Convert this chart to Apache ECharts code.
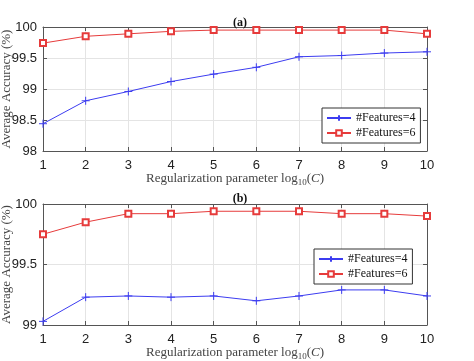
<!DOCTYPE html>
<html><head><meta charset="utf-8">
<script src="https://cdn.jsdelivr.net/npm/echarts@6/dist/echarts.min.js"></script>
<style>html,body{margin:0;padding:0;background:#fff}#c{width:474px;height:361px}</style>
</head><body><div id="c"></div>
<script>
const categories = [1,2,3,4,5,6,7,8,9,10];
const seriesNames = ['#Features=4', '#Features=6'];
const a_f4 = [98.44, 98.81, 98.96, 99.12, 99.24, 99.35, 99.52, 99.54, 99.58, 99.60];
const a_f6 = [99.74, 99.85, 99.89, 99.93, 99.95, 99.95, 99.95, 99.95, 99.95, 99.89];
const b_f4 = [99.03, 99.23, 99.24, 99.23, 99.24, 99.20, 99.24, 99.29, 99.29, 99.24];
const b_f6 = [99.75, 99.85, 99.92, 99.92, 99.94, 99.94, 99.94, 99.92, 99.92, 99.90];
const titles = ['(a)', '(b)'];

const BLUE = '#3c3cf0', RED = '#e63b3b';
const serif = '"Liberation Serif", "DejaVu Serif", serif';
const sans = '"Liberation Sans", Arial, sans-serif';
const plus = 'path://M0,5L10,5M5,0L5,10';
const pair = (xs, ys) => xs.map((x, i) => [x, ys[i]]);

const xName = '{n|Regularization parameter log}{s|10}{n|(}{i|C}{n|)}';
const xRich = {
  n: {fontFamily: serif, fontSize: 13, color: '#444'},
  s: {fontFamily: serif, fontSize: 9, color: '#444', padding: [8, 0, 0, 0]},
  i: {fontFamily: serif, fontSize: 13, color: '#444', fontStyle: 'italic'}
};
const frameLine = {show: true, lineStyle: {color: '#555', width: 1}};
function xAxes(gi) {
  return [{
    type: 'value', gridIndex: gi, min: 1, max: 10, interval: 1,
    axisLine: frameLine, axisTick: {inside: true, length: 4, lineStyle: {color: '#555'}},
    axisLabel: {fontFamily: sans, fontSize: 13, color: '#222', margin: 8},
    splitLine: {show: true, lineStyle: {color: '#e4e4e4'}},
    name: xName, nameLocation: 'middle', nameGap: 19, nameMoveOverlap: false,
    nameTextStyle: {rich: xRich}
  }, {
    type: 'value', gridIndex: gi, min: 1, max: 10, interval: 1, position: 'top',
    axisLine: frameLine, axisTick: {inside: true, length: 4, lineStyle: {color: '#555'}},
    axisLabel: {show: false}, splitLine: {show: false}
  }];
}
function yAxes(gi, min) {
  return [{
    type: 'value', gridIndex: gi, min: min, max: 100, interval: 0.5,
    axisLine: frameLine, axisTick: {inside: true, length: 4, lineStyle: {color: '#555'}},
    axisLabel: {fontFamily: sans, fontSize: 13, color: '#222', margin: 6},
    splitLine: {show: true, lineStyle: {color: '#e4e4e4'}},
    name: 'Average Accuracy (%)', nameLocation: 'middle', nameGap: 30, nameMoveOverlap: false,
    nameTextStyle: {fontFamily: serif, fontSize: 13, color: '#444'}
  }, {
    type: 'value', gridIndex: gi, min: min, max: 100, interval: 0.5, position: 'right',
    axisLine: frameLine, axisTick: {inside: true, length: 4, lineStyle: {color: '#555'}},
    axisLabel: {show: false}, splitLine: {show: false}
  }];
}
function mk(name, data, gi, isBlue) {
  return {
    name: name, type: 'line', xAxisIndex: gi * 2, yAxisIndex: gi * 2, data: data,
    symbol: isBlue ? plus : 'emptyRect', symbolSize: isBlue ? 8 : 6,
    lineStyle: {color: isBlue ? BLUE : RED, width: 1},
    itemStyle: {color: isBlue ? BLUE : RED, borderColor: isBlue ? BLUE : RED, borderWidth: 1},
    animation: false
  };
}
const legendBase = {
  orient: 'vertical', data: seriesNames, backgroundColor: '#fff',
  borderColor: '#333', borderWidth: 1, padding: [4, 5, 4, 4], itemGap: 3,
  itemWidth: 24, itemHeight: 7,
  textStyle: {fontFamily: serif, fontSize: 12, color: '#111'}
};
const chart = echarts.init(document.getElementById('c'));
chart.setOption({
  animation: false,
  title: [
    {text: titles[0], left: 235, top: 12, textAlign: 'center', textStyle: {fontFamily: serif, fontSize: 12, fontWeight: 'bold', color: '#111'}},
    {text: titles[1], left: 235, top: 188, textAlign: 'center', textStyle: {fontFamily: serif, fontSize: 12, fontWeight: 'bold', color: '#111'}}
  ],
  grid: [
    {left: 43, width: 384, top: 27, height: 124, outerBoundsMode: 'none', containLabel: false},
    {left: 43, width: 384, top: 204, height: 121, outerBoundsMode: 'none', containLabel: false}
  ],
  xAxis: [...xAxes(0), ...xAxes(1)],
  yAxis: [...yAxes(0, 98), ...yAxes(1, 99)],
  legend: [
    Object.assign({}, legendBase, {left: 322, top: 108}),
    Object.assign({}, legendBase, {left: 314, top: 249})
  ],
  series: [
    mk(seriesNames[0], pair(categories, a_f4), 0, true),
    mk(seriesNames[1], pair(categories, a_f6), 0, false),
    mk(seriesNames[0], pair(categories, b_f4), 1, true),
    mk(seriesNames[1], pair(categories, b_f6), 1, false)
  ]
});
</script></body></html>
